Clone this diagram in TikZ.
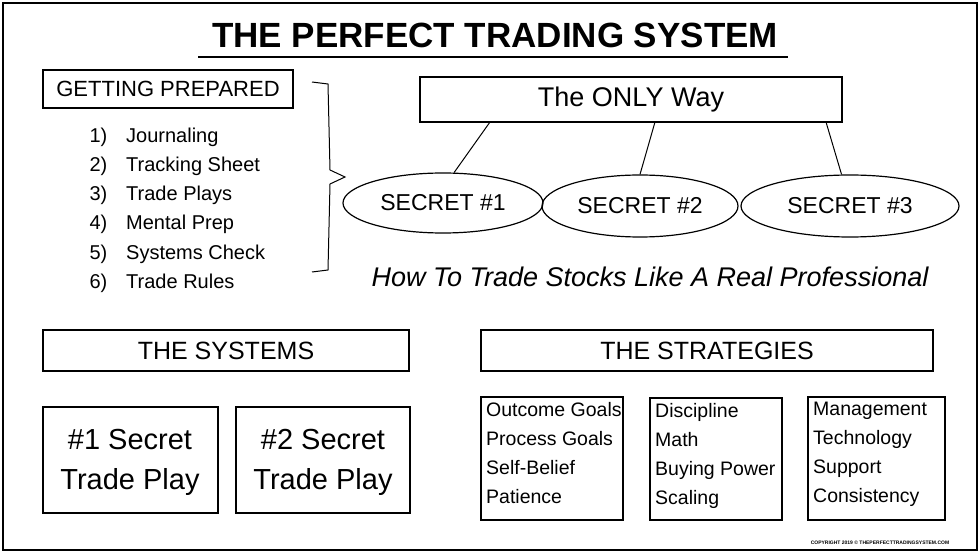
\documentclass[tikz,border=0pt]{standalone}
\usepackage{fontspec}
\setmainfont{Liberation Sans}
\usetikzlibrary{positioning,shapes.geometric}

\tikzset{
  boxed/.style={draw, line width=1.2pt},
  secret/.style={draw, ellipse, inner sep=0pt, line width=1.2pt, font=\fontsize{23}{25}\selectfont},
  listitem/.style={anchor=west, font=\fontsize{20}{22}\selectfont},
  stratitem/.style={anchor=north west, align=left, inner sep=2pt, font=\fontsize{19.5}{29}\selectfont}
}

\begin{document}
\begin{tikzpicture}[x=1pt,y=-1pt]

\useasboundingbox (0,0) rectangle (980,553);
\draw[line width=2.5pt] (3,3) rectangle (977,550);

% title
\node (title) at (495,35) {\fontsize{35}{37}\selectfont\bfseries THE PERFECT TRADING SYSTEM};
\draw[line width=1.5pt] (198,57) -- (788,57);

% getting prepared
\draw[boxed] (43,70) rectangle (293,108);
\node (prep) at (168,89) {\fontsize{22}{24}\selectfont GETTING PREPARED};
\node[listitem] (l1) at (86,137) {1)\enspace\, Journaling};
\node[listitem] (l2) at (86,166) {2)\enspace\, Tracking Sheet};
\node[listitem] (l3) at (86,195) {3)\enspace\, Trade Plays};
\node[listitem] (l4) at (86,224) {4)\enspace\, Mental Prep};
\node[listitem] (l5) at (86,254) {5)\enspace\, Systems Check};
\node[listitem] (l6) at (86,283) {6)\enspace\, Trade Rules};

% brace
\draw[line width=1pt] (312,82) -- (328,84) -- (330,170) -- (345,177) -- (330,184) -- (328,270) -- (312,272);

% the only way
\draw[boxed] (420,77) rectangle (842,122);
\node (way) at (631,100) {\fontsize{27}{29}\selectfont The ONLY Way};

\node[secret, minimum width=200pt, minimum height=60pt] (s1) at (443,203) {SECRET \#1};
\node[secret, minimum width=196pt, minimum height=62pt] (s2) at (640,206) {SECRET \#2};
\node[secret, minimum width=218pt, minimum height=62pt] (s3) at (850,206) {SECRET \#3};

\coordinate (w1) at (490,122);
\coordinate (w2) at (655,122);
\coordinate (w3) at (826,122);
\draw[line width=1pt] (w1) -- (s1.70);
\draw[line width=1pt] (w2) -- (s2.north);
\draw[line width=1pt] (w3) -- (s3.105);

\node (howto) at (650,277) {\fontsize{27}{29}\selectfont\itshape How To Trade Stocks Like A Real Professional};

% systems
\draw[boxed] (43,330) rectangle (409,371);
\node (sys) at (226,351) {\fontsize{25}{27}\selectfont THE SYSTEMS};
\draw[boxed] (43,407) rectangle (218,513);
\node[align=center, font=\fontsize{29}{40}\selectfont] (p1) at (130,462) {\#1 Secret\\Trade Play};
\draw[boxed] (236,407) rectangle (410,513);
\node[align=center, font=\fontsize{29}{40}\selectfont] (p2) at (323,462) {\#2 Secret\\Trade Play};

% strategies
\draw[boxed] (481,330) rectangle (933,371);
\node (strat) at (707,351) {\fontsize{25}{27}\selectfont THE STRATEGIES};
\draw[boxed] (481,397) rectangle (623,520);
\node[stratitem] (g1) at (484,400) {Outcome Goals\\Process Goals\\Self-Belief\\Patience};
\draw[boxed] (650,398) rectangle (782,520);
\node[stratitem] (g2) at (653,401) {Discipline\\Math\\Buying Power\\Scaling};
\draw[boxed] (808,397) rectangle (945,520);
\node[stratitem] (g3) at (811,400) {Management\\Technology\\Support\\Consistency};

\node (copy) at (880,543) {\fontsize{5}{6}\selectfont\bfseries COPYRIGHT 2019 \textcopyright\ THEPERFECTTRADINGSYSTEM.COM};

\end{tikzpicture}
\end{document}
